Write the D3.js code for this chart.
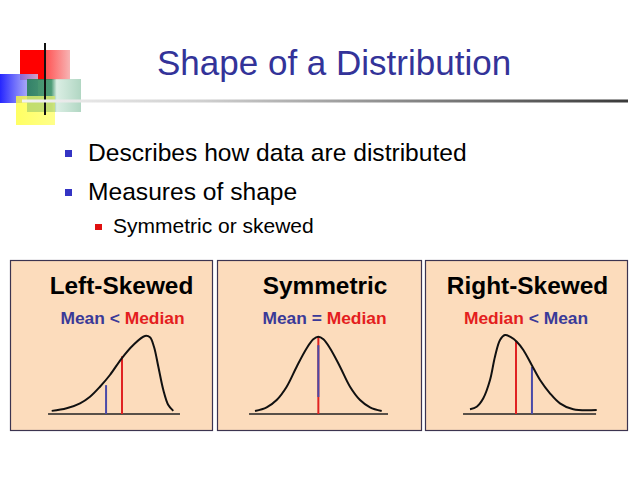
<!DOCTYPE html>
<html>
<head>
<meta charset="utf-8">
<script src="https://cdn.jsdelivr.net/npm/d3@7"></script>
<style>
  body { margin: 0; background: #fff; }
  svg { display: block; font-family: "Liberation Sans", Arial, sans-serif; }
</style>
</head>
<body>
<div id="slide"></div>
<script>
// data
let slideTitle = "Shape of a Distribution";
let bullets = ["Describes how data are distributed", "Measures of shape"];
let subBullets = ["Symmetric or skewed"];

let panelTitles = ["Left-Skewed", "Symmetric", "Right-Skewed"];
// subtitle pieces: [text, which measure]
let panelSubs = [
  [["Mean", "mean"], [" < ", "op"], ["Median", "median"]],
  [["Mean", "mean"], [" = ", "op"], ["Median", "median"]],
  [["Median", "median"], [" < ", "op"], ["Mean", "mean"]]
];

// curve samples, x in 0..100 along the curve, y as share of the peak
let leftX = [0, 12.3, 23.3, 31.5, 39.7, 47.9, 57.6, 67.1, 76.7, 80.8, 84.1, 87.7, 91.8, 95.9, 100];
let leftY = [0.04, 0.073, 0.137, 0.222, 0.35, 0.5, 0.714, 0.885, 1.0, 0.983, 0.863, 0.606, 0.308, 0.115, 0.04];
let symX = [0, 9.2, 17.1, 25, 32.9, 40.8, 46, 50, 54, 59.2, 67.1, 75, 82.9, 90.8, 100];
let symY = [0.039, 0.087, 0.181, 0.353, 0.612, 0.85, 0.966, 1, 0.966, 0.85, 0.612, 0.353, 0.181, 0.087, 0.039];
let rightX = [0, 5.3, 10.5, 15.8, 19.7, 23.7, 27.6, 31.6, 36.9, 42.1, 48.7, 55.3, 63.1, 71, 81.5, 100];
let rightY = [0.06, 0.092, 0.199, 0.43, 0.725, 0.937, 1.0, 0.979, 0.915, 0.81, 0.62, 0.43, 0.262, 0.135, 0.059, 0.05];

// marker lines: [x, from, to]
let meanLines = [[44.7, 0, 0.37], [50, 0.22, 0.89], [48.9, 0, 0.595]];
let medianLines = [[57.8, 0, 0.74], [50, 0, 1.0], [36.3, 0, 0.924]];
let axisSpan = [[-3, 105.5], [-4.7, 105], [-5.5, 99.5]];

// vars
let W = 638, H = 479;
let blueTxt = "#3a3a98", redTxt = "#e41e1e";
let blueLine = "#4a4aa8", redLine = "#e02222";
let panelFill = "#fcdcbc", panelStroke = "#3c3450";

// panel layout (box, text centres, curve frame)
let panels = [
  { x: 10, w: 202, tc: 111.5, sc: 112.5, cx: 41.7, cw: 121.6, ph: 78 },
  { x: 217, w: 204, tc: 108, sc: 107.5, cx: 38, cw: 126.7, ph: 77.3 },
  { x: 425, w: 202, tc: 102.5, sc: 101, cx: 45, cw: 126.7, ph: 79 }
];
let curves = [[leftX, leftY], [symX, symY], [rightX, rightY]];

let svg = d3.select("#slide").append("svg")
  .attr("width", W)
  .attr("height", H)
  .attr("viewBox", "0 0 " + W + " " + H);

let defs = svg.append("defs");
function addGrad(id, stops) {
  let g = defs.append("linearGradient").attr("id", id)
    .attr("x1", "0%").attr("x2", "100%").attr("y1", "0%").attr("y2", "0%");
  stops.forEach(s => g.append("stop").attr("offset", s[0]).attr("stop-color", s[1]).attr("stop-opacity", s[2] == null ? 1 : s[2]));
}
addGrad("g-red", [["0%", "#ff0000"], ["48%", "#ff0000"], ["52%", "#ff5555"], ["100%", "#f7b4b4"]]);
addGrad("g-blue", [["0%", "#1a1aff", 0.95], ["100%", "#c8c8f4", 0.8]]);
addGrad("g-green", [["0%", "#1f7a50", 0.85], ["45%", "#2e8a5e", 0.85], ["55%", "#d4ebdf", 0.85], ["100%", "#a8d2bc", 0.9]]);
addGrad("g-yellow", [["0%", "#ffff33", 0.9], ["100%", "#ffff66", 0.9]]);
addGrad("g-rule", [["0%", "#f2f2f2"], ["30%", "#cfcfcf"], ["100%", "#3a3a3a"]]);

// logo
let logo = svg.append("g");
logo.append("rect").attr("x", 20).attr("y", 50).attr("width", 50).attr("height", 30).attr("fill", "url(#g-red)");
logo.append("rect").attr("x", 0).attr("y", 74).attr("width", 38).attr("height", 29).attr("fill", "url(#g-blue)");
logo.append("rect").attr("x", 27).attr("y", 79).attr("width", 54).attr("height", 33).attr("fill", "url(#g-green)");
logo.append("rect").attr("x", 16).attr("y", 96).attr("width", 39).attr("height", 29).attr("fill", "url(#g-yellow)").attr("opacity", 0.85);
logo.append("rect").attr("x", 27).attr("y", 96).attr("width", 28).attr("height", 16).attr("fill", "#b8d880").attr("opacity", 0.6);

// title rule
svg.append("rect").attr("x", 22).attr("y", 99.5).attr("width", 606).attr("height", 3).attr("fill", "url(#g-rule)");
logo.append("line").attr("x1", 45).attr("x2", 45).attr("y1", 43).attr("y2", 115)
  .attr("stroke", "#111").attr("stroke-width", 2);

// title
svg.append("text")
  .attr("x", 157).attr("y", 75)
  .text(slideTitle)
  .style("font-size", "35px")
  .style("fill", "#333399");

// bullets
let bulletY = [161, 200];
bullets.forEach((b, i) => {
  svg.append("rect").attr("x", 65).attr("y", bulletY[i] - 11).attr("width", 7).attr("height", 7).attr("fill", "#3434c4");
  svg.append("text").attr("x", 88).attr("y", bulletY[i]).text(b)
    .style("font-size", "24.6px").style("fill", "#000");
});
subBullets.forEach((b, i) => {
  svg.append("rect").attr("x", 95).attr("y", 224).attr("width", 7).attr("height", 6).attr("fill", "#e01010");
  svg.append("text").attr("x", 113).attr("y", 233).text(b)
    .style("font-size", "21px").style("fill", "#000");
});

// panels
let baseY = 414;
let line = d3.line().curve(d3.curveCatmullRom.alpha(0.5));

panels.forEach((p, i) => {
  let g = svg.append("g").attr("transform", "translate(" + p.x + ",260)");
  g.append("rect")
    .attr("x", 0.5).attr("y", 0.5)
    .attr("width", p.w).attr("height", 170)
    .attr("fill", panelFill)
    .attr("stroke", panelStroke)
    .attr("stroke-width", 1.2);

  g.append("text")
    .attr("x", p.tc).attr("y", 34)
    .attr("text-anchor", "middle")
    .text(panelTitles[i])
    .style("font-size", "24.4px").style("font-weight", "bold").style("fill", "#000");

  let sub = g.append("text")
    .attr("x", p.sc).attr("y", 64)
    .attr("text-anchor", "middle")
    .style("font-size", "17.4px").style("font-weight", "bold")
    .attr("xml:space", "preserve");
  panelSubs[i].forEach(s => {
    sub.append("tspan").text(s[0])
      .style("fill", s[1] == "median" ? redTxt : blueTxt);
  });

  let xs = d3.scaleLinear().domain([0, 100]).range([p.cx, p.cx + p.cw]);
  let ys = d3.scaleLinear().domain([0, 1]).range([baseY - 260, baseY - 260 - p.ph]);

  // axis line
  g.append("line")
    .attr("x1", xs(axisSpan[i][0])).attr("x2", xs(axisSpan[i][1]))
    .attr("y1", ys(0)).attr("y2", ys(0))
    .attr("stroke", "#222").attr("stroke-width", 1.3);

  // median + mean lines
  let md = medianLines[i], mn = meanLines[i];
  g.append("line")
    .attr("x1", xs(md[0])).attr("x2", xs(md[0]))
    .attr("y1", ys(md[1])).attr("y2", ys(md[2]))
    .attr("stroke", redLine).attr("stroke-width", 2);
  g.append("line")
    .attr("x1", xs(mn[0])).attr("x2", xs(mn[0]))
    .attr("y1", ys(mn[1])).attr("y2", ys(mn[2]))
    .attr("stroke", blueLine).attr("stroke-width", 2);

  // curve
  let pts = curves[i][0].map((x, k) => [xs(x), ys(curves[i][1][k])]);
  g.append("path")
    .attr("d", line(pts))
    .attr("fill", "none")
    .attr("stroke", "#111")
    .attr("stroke-width", 2);
});
</script>
</body>
</html>
